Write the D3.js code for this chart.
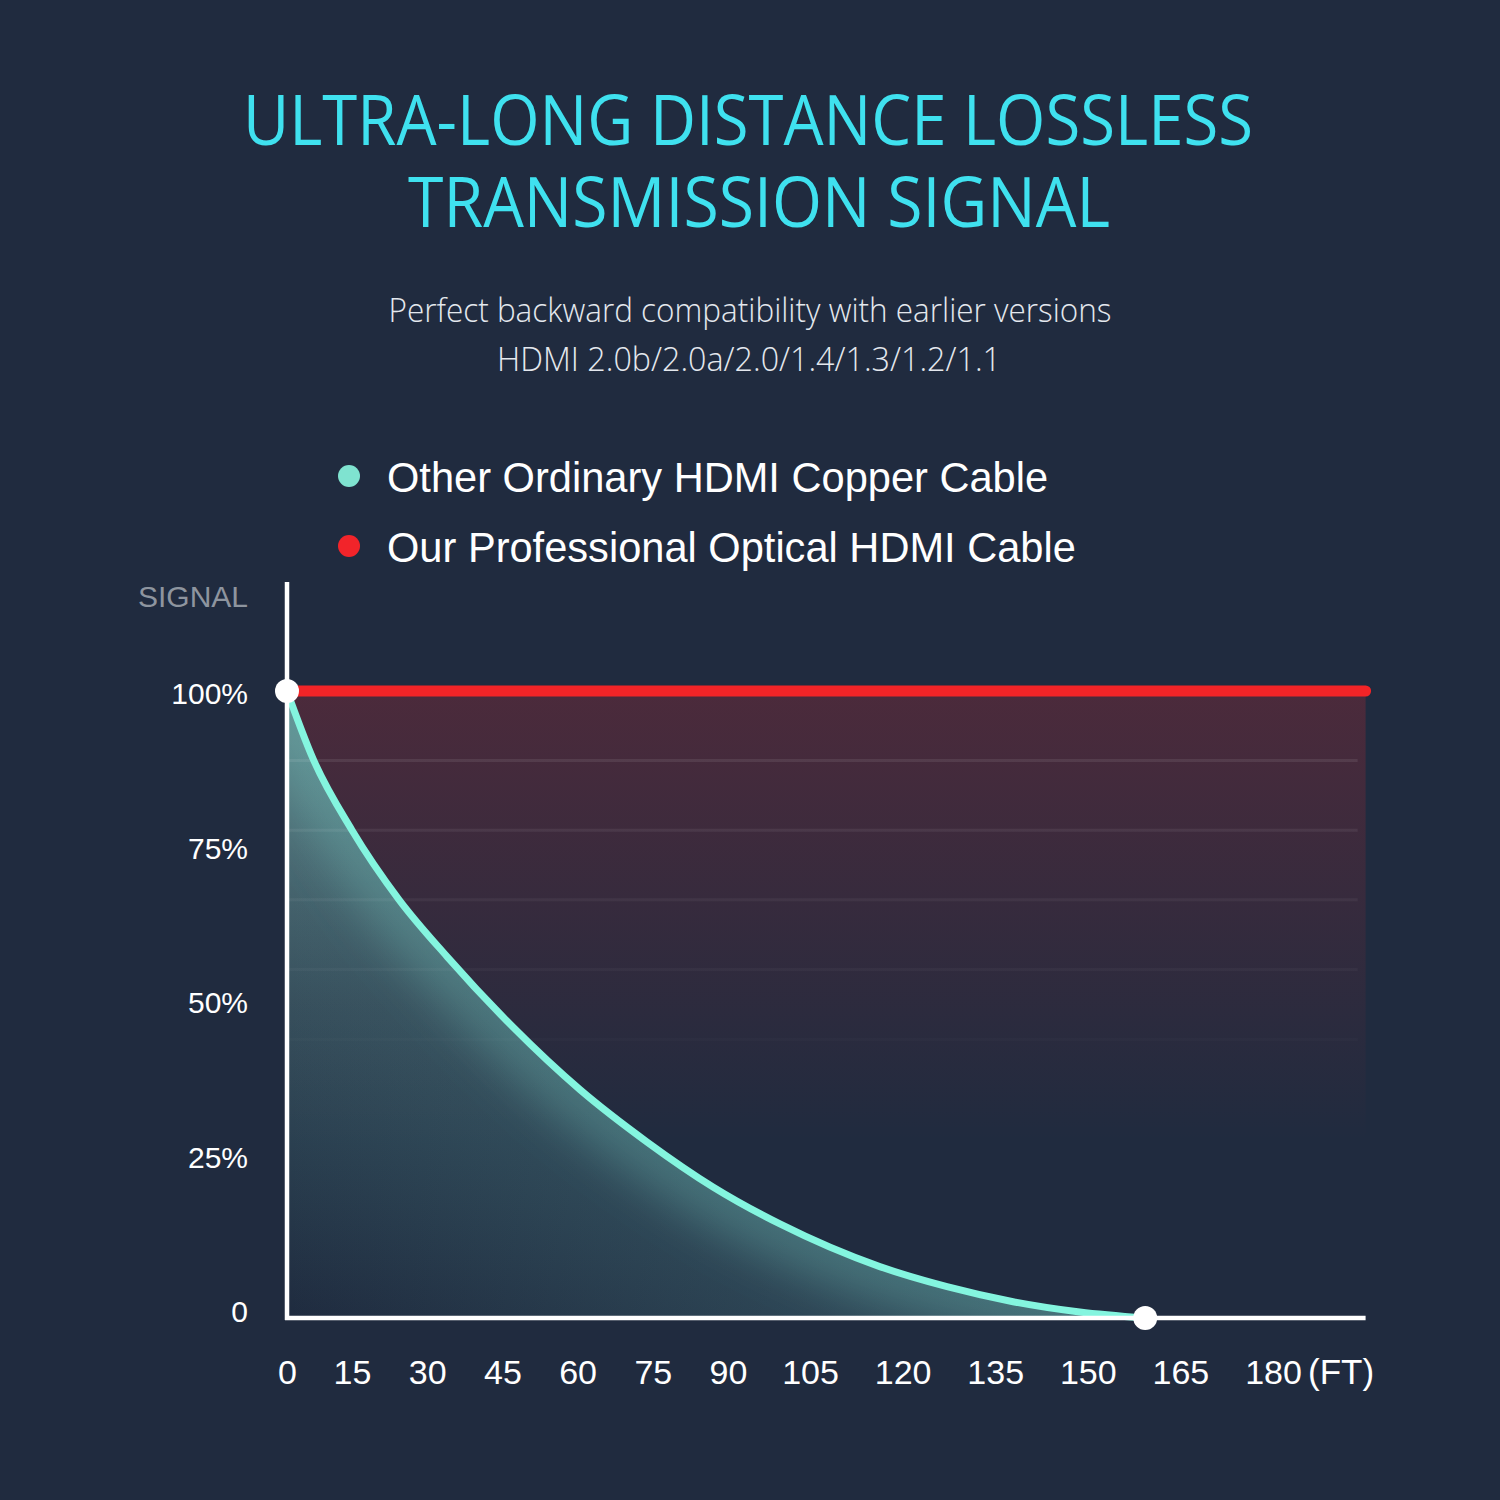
<!DOCTYPE html>
<html>
<head>
<meta charset="utf-8">
<script src="https://cdn.jsdelivr.net/npm/d3@7"></script>
<style>
body { margin: 0; background: #202b3f; }
svg { display: block; }
</style>
</head>
<body>
<div id="chart"></div>
<script>

// x axis (feet) - labels on the picture are not evenly spaced, so the scale has several stops
var xTicks = [0, 15, 30, 45, 60, 75, 90, 105, 120, 135, 150, 165, 180];
var xStops = [0, 15, 90, 105, 180];
var xEnd = 195;			// where the axis line and the red line stop

// y axis (signal)
var yTicks = [0, 0.25, 0.5, 0.75, 1];
var yLabels = ["0", "25%", "50%", "75%", "100%"];
var gridValues = [0.889, 0.778, 0.667, 0.556, 0.444, 0.333, 0.222, 0.111];

// copper cable: signal drops to 0 before 165 ft
var copperFt =     [0, 6.0, 15.0, 24.4, 34.0, 47.1, 60.5, 73.8, 87.0, 99.5, 116.3, 127.2, 137.9, 148.7, 159.3];
var copperSignal = [1, 0.892, 0.778, 0.667, 0.576, 0.464, 0.364, 0.281, 0.209, 0.150, 0.082, 0.05, 0.026, 0.0096, 0];

// optical cable: flat 100%
var opticalFt = [0, xEnd];
var opticalSignal = [1, 1];

var legendNames = ["Other Ordinary HDMI Copper Cable", "Our Professional Optical HDMI Cable"];
var legendColors = ["#7fe3d0", "#f2242a"];

var copper = copperFt.map((d, i) => ({ ft: d, s: copperSignal[i] }));
var optical = opticalFt.map((d, i) => ({ ft: d, s: opticalSignal[i] }));

var W = 1500, H = 1500;
var bg = "#202b3f";

var svg = d3.select("#chart").append("svg")
	.attr("width", W)
	.attr("height", H);

svg.append("rect").attr("width", W).attr("height", H).attr("fill", bg);

var x = d3.scaleLinear()
	.domain(xStops)
	.range([287, 352, 728, 810, 1273]);

var y = d3.scaleLinear()
	.domain([0, 1])
	.range([1318, 691]);

// gradients
var defs = svg.append("defs");

function vgrad(id, y1, y2, stops)	{
	var g = defs.append("linearGradient").attr("id", id)
		.attr("gradientUnits", "userSpaceOnUse")
		.attr("x1", 0).attr("x2", 0).attr("y1", y1).attr("y2", y2);
	stops.forEach(s => g.append("stop").attr("offset", s[0]).attr("stop-color", s[1]).attr("stop-opacity", s[2]));
}

vgrad("redGrad", y(1), y(0.28), [[0, "#f0282d", 0.21], [0.6, "#f0282d", 0.08], [1, "#f0282d", 0]]);
vgrad("gridGrad", y(1), y(0.35), [[0, "#ffffff", 0.1], [1, "#ffffff", 0]]);
vgrad("tealV", y(1), y(0), [[0, "#7cc9c2", 0.6], [0.5, "#6fbdb8", 0.25], [1, "#6fbdb8", 0]]);

var th = defs.append("linearGradient").attr("id", "tealH")
	.attr("gradientUnits", "userSpaceOnUse")
	.attr("x1", x(0)).attr("x2", x(150)).attr("y1", 0).attr("y2", 0);
th.append("stop").attr("offset", 0).attr("stop-color", "#6fc0bb").attr("stop-opacity", 0);
th.append("stop").attr("offset", 1).attr("stop-color", "#6fc0bb").attr("stop-opacity", 0.27);

defs.append("filter").attr("id", "blur")
	.attr("x", -0.2).attr("y", -0.2).attr("width", 1.4).attr("height", 1.4)
	.append("feGaussianBlur").attr("stdDeviation", 22);

// shapes
var optArea = d3.area()
	.x(d => x(d.ft))
	.y0(y(0))
	.y1(d => y(d.s));

var copArea = d3.area()
	.x(d => x(d.ft))
	.y0(y(0))
	.y1(d => y(d.s))
	.curve(d3.curveMonotoneX);

var line = d3.line()
	.x(d => x(d.ft))
	.y(d => y(d.s));

var copLine = d3.line()
	.x(d => x(d.ft))
	.y(d => y(d.s))
	.curve(d3.curveMonotoneX);

defs.append("clipPath").attr("id", "copClip")
	.append("path").attr("d", copArea(copper));

// red band behind everything
svg.append("path")
	.attr("d", optArea(optical))
	.attr("fill", "url(#redGrad)");

// copper fill: two gradients + glow along the curve
var cg = svg.append("g");
cg.append("path").attr("d", copArea(copper)).attr("fill", bg).attr("fill-opacity", 0.6);
cg.append("path").attr("d", copArea(copper)).attr("fill", "url(#tealV)");
cg.append("path").attr("d", copArea(copper)).attr("fill", "url(#tealH)");
cg.append("g").attr("clip-path", "url(#copClip)")
	.append("path")
	.attr("d", copLine(copper))
	.attr("fill", "none")
	.attr("stroke", "#7fd8cc")
	.attr("stroke-width", 70)
	.attr("stroke-opacity", 0.26)
	.attr("filter", "url(#blur)");

// grid lines
svg.append("g")
	.selectAll("line")
	.data(gridValues)
	.join("line")
	.attr("x1", x(0) + 2)
	.attr("x2", x(xEnd) - 8)
	.attr("y1", d => y(d))
	.attr("y2", d => y(d))
	.attr("stroke", "url(#gridGrad)")
	.attr("stroke-width", 3);

// lines
svg.append("path")
	.attr("d", line(optical))
	.attr("fill", "none")
	.attr("stroke", "#f22427")
	.attr("stroke-width", 11)
	.attr("stroke-linecap", "round");

svg.append("path")
	.attr("d", copLine(copper))
	.attr("fill", "none")
	.attr("stroke", "#84f5df")
	.attr("stroke-width", 7)
	.attr("stroke-linecap", "round");

// axis lines
svg.append("line")
	.attr("x1", x(0)).attr("x2", x(0))
	.attr("y1", 582).attr("y2", y(0) + 2)
	.attr("stroke", "#fff").attr("stroke-width", 4.5);
svg.append("line")
	.attr("x1", x(0) - 2).attr("x2", x(xEnd))
	.attr("y1", y(0)).attr("y2", y(0))
	.attr("stroke", "#fff").attr("stroke-width", 4.5);

// x labels
var xaxis = svg.append("g")
	.attr("transform", `translate(0,${y(0)})`)
	.call(d3.axisBottom(x).tickValues(xTicks).tickSize(0).tickPadding(42).tickFormat(d3.format("d")));
xaxis.select(".domain").remove();
xaxis.selectAll("text")
	.attr("fill", "#fff")
	.style("font-family", "'Liberation Sans', Arial, sans-serif")
	.style("font-size", "34px");

svg.append("text")
	.attr("x", x(180) + 35)
	.attr("y", 1384)
	.attr("fill", "#fff")
	.style("font-family", "'Liberation Sans', Arial, sans-serif")
	.style("font-size", "35px")
	.text("(FT)");

// y labels
var yaxis = svg.append("g")
	.attr("transform", `translate(${x(0)},0)`)
	.call(d3.axisLeft(y).tickValues(yTicks).tickSize(0).tickPadding(39)
		.tickFormat((d, i) => yLabels[i]));
yaxis.select(".domain").remove();
yaxis.selectAll("text")
	.attr("fill", "#fff")
	.attr("dy", (d, i) => (0.12 + i * 0.075) + "em")
	.style("font-family", "'Liberation Sans', Arial, sans-serif")
	.style("font-size", "30px");

svg.append("text")
	.attr("x", 248)
	.attr("y", 607)
	.attr("text-anchor", "end")
	.attr("fill", "#8e959f")
	.style("font-family", "'Liberation Sans', Arial, sans-serif")
	.style("font-size", "30px")
	.text("SIGNAL");

// end points
svg.append("circle").attr("cx", x(0)).attr("cy", y(1)).attr("r", 12).attr("fill", "#fff");
svg.append("circle")
	.attr("cx", x(copper[copper.length - 1].ft))
	.attr("cy", y(0))
	.attr("r", 12)
	.attr("fill", "#fff");

// title
var title = svg.append("g")
	.attr("fill", "#3fe1ef")
	.style("font-family", "'Open Sans', 'Noto Sans', sans-serif")
	.style("font-size", "70px");
title.append("text")
	.attr("x", 748).attr("y", 145)
	.attr("text-anchor", "middle")
	.attr("textLength", 1010).attr("lengthAdjust", "spacingAndGlyphs")
	.text("ULTRA-LONG DISTANCE LOSSLESS");
title.append("text")
	.attr("x", 759).attr("y", 227)
	.attr("text-anchor", "middle")
	.attr("textLength", 702).attr("lengthAdjust", "spacingAndGlyphs")
	.text("TRANSMISSION SIGNAL");

var sub = svg.append("g")
	.attr("fill", "#e4e8ee")
	.style("font-family", "'Open Sans', 'Noto Sans', sans-serif")
	.style("font-weight", 300)
	.style("font-size", "33px");
sub.append("text")
	.attr("x", 750).attr("y", 322)
	.attr("text-anchor", "middle")
	.attr("textLength", 723).attr("lengthAdjust", "spacingAndGlyphs")
	.text("Perfect backward compatibility with earlier versions");
sub.append("text")
	.attr("x", 749).attr("y", 371)
	.attr("text-anchor", "middle")
	.attr("textLength", 504).attr("lengthAdjust", "spacingAndGlyphs")
	.text("HDMI 2.0b/2.0a/2.0/1.4/1.3/1.2/1.1");

// legend
var leg = svg.append("g")
	.selectAll("g")
	.data(legendNames)
	.join("g")
	.attr("transform", (d, i) => `translate(349,${476 + i * 70})`);
leg.append("circle").attr("r", 11).attr("fill", (d, i) => legendColors[i]);
leg.append("text")
	.attr("x", 38)
	.attr("y", 16)
	.attr("fill", "#fff")
	.style("font-family", "'Liberation Sans', Arial, sans-serif")
	.style("font-size", "41.6px")
	.text(d => d);

</script>
</body>
</html>
